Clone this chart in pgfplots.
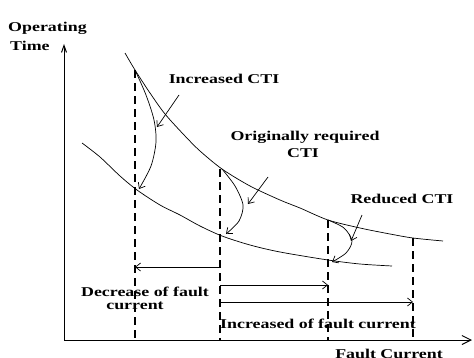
\documentclass[border=0pt]{standalone}
\usepackage{pgfplots}
\pgfplotsset{compat=1.18}
\usepackage{fontspec}
\setmainfont{Liberation Serif}
\newfontfamily\labfont[FakeStretch=1.33]{Liberation Serif Bold}
\usetikzlibrary{arrows.meta}
\begin{document}
\begin{tikzpicture}
\begin{axis}[name=ax,
  width=474bp, height=358bp, scale only axis,
  xmin=0, xmax=474, ymin=0, ymax=358, y dir=reverse,
  hide axis, clip=false,
  every axis plot/.append style={black, line width=0.7bp},
  tip/.style={-{Straight Barb[length=5bp,width=8bp]}},
]
% axes
\addplot[line width=1bp, -{Straight Barb[length=7bp,width=5bp]}] coordinates {(64,340) (64,44)};
\addplot[line width=1bp, -{Straight Barb[length=9bp,width=9bp]}] coordinates {(64,340) (472,340)};
% upper curve
\addplot[smooth, tension=0.5] coordinates {(125,53) (135,70) (150,93) (165,114) (185,136) (200,151) (222,169) (250,186) (280,200) (300,208) (328,220) (360,228) (390,234) (413,238) (443,241)};
% lower curve
\addplot[smooth, tension=0.5] coordinates {(82,143) (100,157) (120,176) (137,190) (160,205) (180,215) (200,226) (222,236) (250,245) (280,252) (328,260) (360,264) (392,266)};
% dashed verticals
\addplot[line width=1.3bp, dash pattern=on 8bp off 5bp] coordinates {(135,70) (135,340)};
\addplot[line width=1.3bp, dash pattern=on 8bp off 5bp] coordinates {(220,169) (220,340)};
\addplot[line width=1.3bp, dash pattern=on 8bp off 5bp] coordinates {(328,220) (328,340)};
\addplot[line width=1.3bp, dash pattern=on 8bp off 5bp] coordinates {(413,238) (413,340)};
% horizontal arrows
\addplot[tip] coordinates {(220,267) (135,267)};
\addplot[tip] coordinates {(220,285) (328,285)};
\addplot[tip] coordinates {(220,302) (413,302)};
% CTI curved arrows
\addplot[tip, smooth] coordinates {(135,70) (146,95) (154,120) (156,142) (151,166) (139,189)};
\addplot[tip] coordinates {(179,95) (157,127)};
\addplot[tip, smooth] coordinates {(222,169) (235,186) (243,205) (239,221) (226,234)};
\addplot[tip] coordinates {(268,177) (248,204)};
\addplot[tip, smooth] coordinates {(328,220) (344,228) (352,241) (346,253) (332,262)};
\addplot[tip] coordinates {(362,215) (351,241)};
% labels
\tikzset{lab/.style={font=\labfont\fontsize{13.5}{14}\selectfont, inner sep=0pt}}
\node[lab, anchor=west] at (axis cs:8,28) {Operating};
\node[lab, anchor=west] at (axis cs:10,46) {Time};
\node[lab] at (axis cs:224,79) {Increased CTI};
\node[lab] at (axis cs:305,137) {Originally required};
\node[lab] at (axis cs:303,153) {CTI};
\node[lab] at (axis cs:145,292) {Decrease of fault};
\node[lab] at (axis cs:135,306) {current};
\node[lab] at (axis cs:402,199) {Reduced CTI};
\node[lab] at (axis cs:318,324) {Increased of fault current};
\node[lab] at (axis cs:389,354) {Fault Current};
\end{axis}
\pgfresetboundingbox
\path[use as bounding box] (ax.south west) rectangle (ax.north east);
\end{tikzpicture}
\end{document}
